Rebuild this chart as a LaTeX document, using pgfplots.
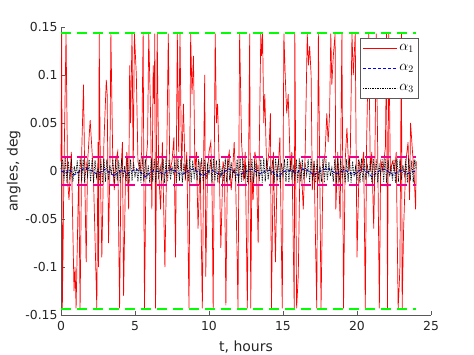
\documentclass[border=0pt]{standalone}
\usepackage{fontspec}
\setmainfont{DejaVu Sans}
\usepackage{pgfplots}
\pgfplotsset{compat=1.18}
\newcommand{\legfont}{\fontsize{14.4pt}{16pt}\selectfont}
\begin{document}
\begin{tikzpicture}
\begin{axis}[
  scale only axis, width=370bp, height=288bp,
  xmin=0, xmax=25, ymin=-0.15, ymax=0.15,
  axis x line*=bottom, axis y line*=left,
  axis line style={draw=gray!70!black, line width=0.5pt},
  xtick={0,5,10,15,20,25},
  ytick={-0.15,-0.1,-0.05,0,0.05,0.1,0.15},
  yticklabels={-0.15,-0.1,-0.05,0,0.05,0.1,0.15},
  tick style={draw=gray!70!black},
  tick align=inside, major tick length=4bp,
  /pgf/number format/assume math mode=true,
  ticklabel style={font=\fontsize{12.4bp}{14bp}\selectfont, text=black!85},
  xticklabel style={yshift=-3bp},
  label style={font=\fontsize{14bp}{16bp}\selectfont, text=black!85},
  xlabel={t, hours}, ylabel={angles, deg},
  xlabel style={yshift=-3bp},
  ylabel style={yshift=-2bp},
  legend style={at={(0.965,0.962)}, anchor=north east, draw=gray!70!black, fill=white,
    font=\legfont, row sep=8.5bp, inner xsep=2bp, inner ysep=4bp},
  legend cell align=left,
  legend image code/.code={\draw[#1] (0bp,0bp) -- (34bp,0bp);},
  clip=false,
]
\addplot[red, line width=0.7pt] coordinates {
(0,0.01)(0.05,0.143)(0.09,-0.143)(0.2,0.0)(0.34,0.143)(0.45,-0.01)(0.54,-0.03)(0.7,0.02)
(0.88,-0.125)(0.95,-0.1)(1.02,-0.143)(1.11,-0.07)(1.2,0.0)(1.29,-0.143)(1.4,0.02)(1.52,0.09)
(1.6,0.0)(1.7,-0.095)(1.8,0.01)(1.97,0.053)(2.1,0.02)(2.2,-0.01)(2.42,-0.143)(2.5,0.03)
(2.54,-0.1)(2.58,0.143)(2.66,0.0)(2.76,-0.09)(2.9,0.03)(3.06,0.095)(3.12,0.08)(3.21,-0.075)
(3.3,0.0)(3.37,0.143)(3.5,0.01)(3.6,-0.02)(3.7,0.01)(3.83,0.02)(3.96,-0.143)(4.05,0.0)
(4.15,0.03)(4.23,-0.13)(4.35,-0.01)(4.45,0.02)(4.57,-0.04)(4.64,0.11)(4.7,0.05)(4.8,0.143)
(4.88,0.0)(4.96,0.143)(5.09,0.1)(5.2,0.01)(5.35,0.0)(5.45,0.02)(5.55,0.143)(5.64,-0.143)
(5.75,0.01)(5.85,0.03)(5.93,0.143)(6.05,0.06)(6.14,-0.04)(6.23,0.11)(6.3,0.07)(6.34,0.143)
(6.39,-0.143)(6.5,0.143)(6.6,0.0)(6.73,-0.04)(6.85,0.03)(7.02,-0.1)(7.15,0.02)(7.25,0.143)
(7.35,0.0)(7.5,0.01)(7.63,0.035)(7.74,-0.09)(7.86,0.143)(7.95,0.02)(8.04,0.143)(8.15,0.0)
(8.27,0.07)(8.4,-0.01)(8.5,0.02)(8.65,-0.143)(8.76,0.143)(8.85,0.08)(8.95,0.12)(9.05,0.0)
(9.15,0.02)(9.26,-0.06)(9.4,0.01)(9.55,-0.143)(9.65,0.03)(9.71,0.1)(9.78,-0.11)(9.9,0.0)
(10.0,0.02)(10.12,0.03)(10.2,-0.01)(10.28,-0.143)(10.42,0.143)(10.5,0.05)(10.58,0.07)(10.7,0.0)
(10.8,-0.08)(10.95,0.01)(11.05,0.0)(11.14,-0.14)(11.25,0.01)(11.37,0.02)(11.5,-0.02)(11.6,0.0)
(11.7,0.03)(11.8,-0.01)(11.9,-0.09)(11.96,-0.143)(12.07,0.143)(12.2,0.03)(12.35,-0.01)(12.45,0.02)
(12.59,-0.143)(12.75,0.143)(12.82,-0.143)(12.9,0.0)(12.98,-0.03)(13.1,0.02)(13.2,0.01)(13.32,-0.075)
(13.42,0.05)(13.5,0.143)(13.55,0.12)(13.62,0.143)(13.7,0.05)(13.77,0.08)(13.9,0.0)(14.05,0.02)
(14.15,0.06)(14.22,-0.143)(14.35,0.02)(14.49,-0.095)(14.6,0.0)(14.7,0.01)(14.79,0.035)(14.95,-0.143)
(15.06,0.143)(15.15,0.1)(15.25,0.06)(15.35,0.08)(15.5,0.0)(15.6,0.02)(15.76,-0.143)(15.8,0.143)
(15.92,-0.143)(16.03,-0.11)(16.15,0.01)(16.25,0.0)(16.37,-0.04)(16.5,0.02)(16.64,0.143)(16.72,0.11)
(16.8,0.13)(16.9,0.1)(16.98,-0.02)(17.1,0.01)(17.28,-0.143)(17.39,0.143)(17.47,0.02)(17.57,-0.143)
(17.7,0.0)(17.85,0.02)(17.96,0.06)(18.05,0.03)(18.15,0.06)(18.23,0.143)(18.3,0.09)(18.4,0.12)
(18.52,0.143)(18.57,-0.04)(18.7,0.02)(18.86,-0.05)(18.98,0.143)(19.09,-0.143)(19.2,0.01)(19.32,0.045)
(19.45,0.0)(19.55,0.02)(19.66,0.143)(19.75,0.1)(19.88,0.143)(20.0,-0.09)(20.15,0.01)(20.3,0.0)
(20.45,0.02)(20.56,-0.143)(20.65,0.03)(20.79,0.143)(20.9,0.0)(21.0,0.02)(21.13,-0.06)(21.2,0.0)
(21.3,0.143)(21.4,0.02)(21.51,-0.143)(21.6,0.01)(21.75,0.0)(21.92,0.025)(22.0,0.143)(22.06,-0.143)
(22.15,0.143)(22.25,0.0)(22.4,0.01)(22.55,0.0)(22.65,0.02)(22.78,-0.143)(22.85,-0.12)(22.9,-0.1)
(23.0,0.143)(23.05,-0.143)(23.15,-0.06)(23.3,0.01)(23.45,0.03)(23.55,-0.03)(23.62,0.05)(23.75,0.02)
(23.85,0.0)(23.96,-0.04)(24.0,0.01)
};
\addlegendentry{$\alpha_1$}
\addplot[blue, line width=0.9pt, dash pattern=on 3bp off 2bp] coordinates {
(0,0.000)(0.3,-0.002)(0.6,0.001)(0.9,-0.004)(1.2,-0.001)(1.5,0.002)(1.8,0.003)(2.1,0.000)
(2.4,-0.003)(2.7,-0.001)(3.0,0.002)(3.3,-0.002)(3.6,-0.005)(3.9,-0.001)(4.2,0.001)(4.5,-0.003)
(4.8,0.000)(5.1,0.002)(5.4,-0.002)(5.7,-0.006)(6.0,-0.002)(6.3,0.001)(6.6,-0.001)(6.9,-0.003)
(7.2,0.000)(7.5,0.002)(7.8,-0.001)(8.1,-0.004)(8.4,-0.002)(8.7,0.001)(9.0,0.002)(9.3,-0.002)
(9.6,-0.005)(9.9,-0.001)(10.2,0.001)(10.5,-0.002)(10.8,-0.004)(11.1,0.000)(11.4,0.002)(11.7,-0.001)
(12.0,-0.005)(12.3,-0.002)(12.6,0.000)(12.9,0.002)(13.2,-0.001)(13.5,-0.003)(13.8,0.000)(14.1,0.001)
(14.4,-0.002)(14.7,-0.006)(15.0,-0.001)(15.3,0.001)(15.6,0.000)(15.9,-0.002)(16.2,0.001)(16.5,0.002)
(16.8,-0.001)(17.1,-0.004)(17.4,-0.001)(17.7,0.001)(18.0,0.003)(18.3,0.000)(18.6,-0.003)(18.9,-0.001)
(19.2,0.001)(19.5,-0.002)(19.8,-0.004)(20.1,0.000)(20.4,0.002)(20.7,-0.001)(21.0,-0.006)(21.3,-0.002)
(21.6,0.001)(21.9,0.002)(22.2,-0.002)(22.5,-0.004)(22.8,0.000)(23.1,0.001)(23.4,-0.003)(23.7,-0.001)
(24.0,0.000)
};
\addlegendentry{$\alpha_2$}
\addplot[black, line width=0.8pt, dash pattern=on 0.8bp off 0.9bp] coordinates {
(0.0,0.002)(0.1,0.012)(0.2,-0.010)(0.3,0.013)(0.4,-0.012)(0.5,0.010)(0.6,-0.009)(0.7,0.012)(0.8,-0.011)(0.9,0.005)
(1.0,-0.004)(1.1,0.011)(1.2,-0.012)(1.3,0.013)(1.4,-0.010)(1.5,0.012)(1.6,-0.012)(1.7,0.007)(1.8,-0.005)(1.9,0.012)
(2.0,-0.011)(2.1,0.013)(2.2,-0.012)(2.3,0.011)(2.4,-0.006)(2.5,0.004)(2.6,-0.010)(2.7,0.012)(2.8,-0.012)(2.9,0.013)
(3.0,-0.011)(3.1,0.012)(3.2,-0.009)(3.3,0.006)(3.4,-0.004)(3.5,0.012)(3.6,-0.012)(3.7,0.013)(3.8,-0.010)(3.9,0.011)
(4.0,-0.012)(4.1,0.012)(4.2,-0.007)(4.3,0.005)(4.4,-0.011)(4.5,0.013)(4.6,-0.012)(4.7,0.012)(4.8,-0.010)(4.9,0.009)
(5.0,-0.005)(5.1,0.003)(5.2,-0.011)(5.3,0.012)(5.4,-0.012)(5.5,0.013)(5.6,-0.011)(5.7,0.012)(5.8,-0.008)(5.9,0.006)
(6.0,-0.012)(6.1,0.012)(6.2,-0.011)(6.3,0.013)(6.4,-0.012)(6.5,0.010)(6.6,-0.006)(6.7,0.004)(6.8,-0.010)(6.9,0.012)
(7.0,-0.012)(7.1,0.013)(7.2,-0.011)(7.3,0.012)(7.4,-0.009)(7.5,0.005)(7.6,-0.004)(7.7,0.011)(7.8,-0.012)(7.9,0.013)
(8.0,-0.010)(8.1,0.012)(8.2,-0.012)(8.3,0.008)(8.4,-0.005)(8.5,0.012)(8.6,-0.011)(8.7,0.013)(8.8,-0.012)(8.9,0.011)
(9.0,-0.006)(9.1,0.004)(9.2,-0.010)(9.3,0.012)(9.4,-0.012)(9.5,0.013)(9.6,-0.011)(9.7,0.012)(9.8,-0.009)(9.9,0.006)
(10.0,-0.004)(10.1,0.012)(10.2,-0.012)(10.3,0.013)(10.4,-0.010)(10.5,0.011)(10.6,-0.012)(10.7,0.012)(10.8,-0.007)(10.9,0.005)
(11.0,-0.011)(11.1,0.013)(11.2,-0.012)(11.3,0.012)(11.4,-0.010)(11.5,0.009)(11.6,-0.005)(11.7,0.003)(11.8,-0.011)(11.9,0.012)
(12.0,-0.012)(12.1,0.013)(12.2,-0.011)(12.3,0.012)(12.4,-0.008)(12.5,0.006)(12.6,-0.012)(12.7,0.012)(12.8,-0.011)(12.9,0.013)
(13.0,-0.012)(13.1,0.010)(13.2,-0.006)(13.3,0.004)(13.4,-0.010)(13.5,0.012)(13.6,-0.012)(13.7,0.013)(13.8,-0.011)(13.9,0.012)
(14.0,-0.009)(14.1,0.005)(14.2,-0.004)(14.3,0.011)(14.4,-0.012)(14.5,0.013)(14.6,-0.010)(14.7,0.012)(14.8,-0.012)(14.9,0.008)
(15.0,-0.005)(15.1,0.012)(15.2,-0.011)(15.3,0.013)(15.4,-0.012)(15.5,0.011)(15.6,-0.006)(15.7,0.004)(15.8,-0.010)(15.9,0.012)
(16.0,-0.012)(16.1,0.013)(16.2,-0.011)(16.3,0.012)(16.4,-0.009)(16.5,0.006)(16.6,-0.004)(16.7,0.012)(16.8,-0.012)(16.9,0.013)
(17.0,-0.010)(17.1,0.011)(17.2,-0.012)(17.3,0.012)(17.4,-0.007)(17.5,0.005)(17.6,-0.011)(17.7,0.013)(17.8,-0.012)(17.9,0.012)
(18.0,-0.010)(18.1,0.009)(18.2,-0.005)(18.3,0.003)(18.4,-0.011)(18.5,0.012)(18.6,-0.012)(18.7,0.013)(18.8,-0.011)(18.9,0.012)
(19.0,-0.008)(19.1,0.006)(19.2,-0.012)(19.3,0.012)(19.4,-0.011)(19.5,0.013)(19.6,-0.012)(19.7,0.010)(19.8,-0.006)(19.9,0.004)
(20.0,-0.010)(20.1,0.012)(20.2,-0.012)(20.3,0.013)(20.4,-0.011)(20.5,0.012)(20.6,-0.009)(20.7,0.005)(20.8,-0.004)(20.9,0.011)
(21.0,-0.012)(21.1,0.013)(21.2,-0.010)(21.3,0.012)(21.4,-0.012)(21.5,0.008)(21.6,-0.005)(21.7,0.012)(21.8,-0.011)(21.9,0.013)
(22.0,-0.012)(22.1,0.011)(22.2,-0.006)(22.3,0.004)(22.4,-0.010)(22.5,0.012)(22.6,-0.012)(22.7,0.013)(22.8,-0.011)(22.9,0.012)
(23.0,-0.009)(23.1,0.006)(23.2,-0.004)(23.3,0.012)(23.4,-0.012)(23.5,0.013)(23.6,-0.010)(23.7,0.011)(23.8,-0.012)(23.9,0.012)
(24.0,0.002)
};
\addlegendentry{$\alpha_3$}
\addplot[green, line width=1.6pt, dash pattern=on 10bp off 6bp, forget plot] coordinates {(0,0.1435)(24,0.1435)};
\addplot[green, line width=1.6pt, dash pattern=on 10bp off 6bp, forget plot] coordinates {(0,-0.1435)(24,-0.1435)};
\addplot[magenta, line width=1.6pt, dash pattern=on 10bp off 6bp, forget plot] coordinates {(0,0.0145)(24,0.0145)};
\addplot[magenta, line width=1.6pt, dash pattern=on 10bp off 6bp, forget plot] coordinates {(0,-0.0145)(24,-0.0145)};
\end{axis}
\pgfresetboundingbox
\path ([shift={(-61bp,-40bp)}]current axis.south west) rectangle ([shift={(43bp,27bp)}]current axis.north east);
\end{tikzpicture}
\end{document}
